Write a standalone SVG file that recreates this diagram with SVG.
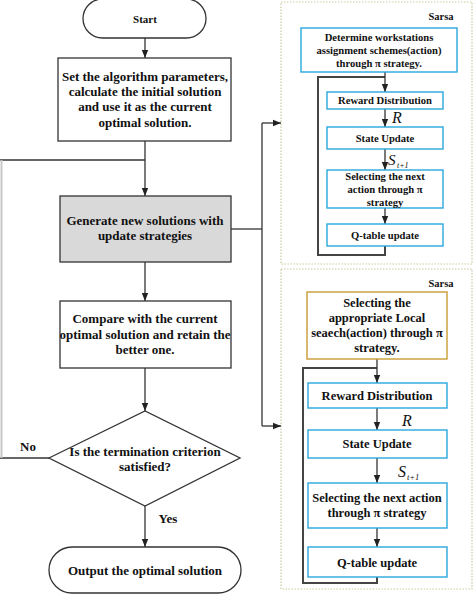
<svg xmlns="http://www.w3.org/2000/svg" width="474" height="594" viewBox="0 0 474 594">
<style>
  text { font-family: "Liberation Serif", "Times New Roman", serif; font-weight: bold; fill: #111; text-anchor: middle; }
  .l { font-size: 13px; }
  .s { font-size: 10.6px; }
  .m { font-size: 12.5px; }
  .box { fill: #fff; stroke: #333; stroke-width: 1.3; }
  .blue { fill: #fff; stroke: #2aa8dc; stroke-width: 1.4; }
  .gold { fill: #fff; stroke: #c99a34; stroke-width: 1.4; }
  .cont { fill: none; stroke: #c9c9a0; stroke-width: 1.2; stroke-dasharray: 1.5 1.5; }
  .c { fill: none; stroke: #333; stroke-width: 1.3; }
  .loop { fill: none; stroke: #444; stroke-width: 2; }
  .it { font-style: italic; font-weight: normal; text-anchor: start; }
</style>
<defs>
  <marker id="ah" markerUnits="userSpaceOnUse" markerWidth="8" markerHeight="8" viewBox="0 0 8 8" refX="8" refY="4" orient="auto">
    <path d="M0,0.8 L8,4 L0,7.2 Z" fill="#222"/>
  </marker>
</defs>
<rect width="474" height="594" fill="#fff"/>

<g id="sarsa1-container">
  <rect class="cont" x="281" y="2" width="191" height="262"/>
  <text x="441" y="20" style="font-size:10.5px">Sarsa</text>
</g>
<g id="sarsa2-container">
  <rect class="cont" x="281" y="269" width="191" height="320"/>
  <text x="441" y="287" style="font-size:10.5px">Sarsa</text>
</g>

<g id="connectors">
  <path class="c" d="M145,38 V58" marker-end="url(#ah)"/>
  <path class="c" d="M145,141 V196" marker-end="url(#ah)"/>
  <path class="c" d="M0,160 H145"/>
  <path class="c" d="M231,229 H262"/>
  <path class="c" d="M262,123 V426"/>
  <path class="c" d="M262,123 H281" marker-end="url(#ah)"/>
  <path class="c" d="M262,426 H281" marker-end="url(#ah)"/>
  <path class="c" d="M145,262 V301" marker-end="url(#ah)"/>
  <path class="c" d="M145,368 V411" marker-end="url(#ah)"/>
  <path class="c" d="M145,506 V547" marker-end="url(#ah)"/>
  <path class="c" d="M49,458 H0"/>
  <path d="M1.5,160 V458" fill="none" stroke="#c8c8c8" stroke-width="2"/>

  <path class="loop" d="M385,246 V255 H318 V77 H385"/>
  <path class="c" d="M385,72 V92" marker-end="url(#ah)"/>
  <path class="c" d="M385,109 V127" marker-end="url(#ah)"/>
  <path class="c" d="M385,149 V170" marker-end="url(#ah)"/>
  <path class="c" d="M385,208 V224" marker-end="url(#ah)"/>

  <path class="loop" d="M377,577 V583 H303 V368 H377"/>
  <path class="c" d="M377,359 V383" marker-end="url(#ah)"/>
  <path class="c" d="M377,408 V430" marker-end="url(#ah)"/>
  <path class="c" d="M377,458 V483" marker-end="url(#ah)"/>
  <path class="c" d="M377,528 V547" marker-end="url(#ah)"/>

  <text x="28" y="451" class="l">No</text>
  <text x="168" y="523" class="l">Yes</text>
  <text x="392" y="123" class="it" style="font-size:16px">R</text>
  <text x="388" y="165" class="it" style="font-size:15px">S</text>
  <text x="397" y="168" class="it" style="font-size:8px">t+1</text>
  <text x="402" y="426" class="it" style="font-size:16px">R</text>
  <text x="398" y="477" class="it" style="font-size:16px">S</text>
  <text x="407" y="480" class="it" style="font-size:8.5px">t+1</text>
</g>

<g id="start">
  <rect class="box" x="83" y="-1" width="123" height="39" rx="19.5"/>
  <text x="145" y="23" class="s" style="font-size:11px">Start</text>
</g>
<g id="init">
  <rect class="box" x="58" y="58" width="173" height="83"/>
  <text class="l" x="145" y="81">Set the algorithm parameters,</text>
  <text class="l" x="145" y="96">calculate the initial solution</text>
  <text class="l" x="145" y="111">and use it as the current</text>
  <text class="l" x="145" y="127">optimal solution.</text>
</g>
<g id="generate">
  <rect class="box" x="60" y="196" width="171" height="66" style="fill:#d9d9d9"/>
  <text class="l" x="145" y="225">Generate new solutions with</text>
  <text class="l" x="145" y="240">update strategies</text>
</g>
<g id="compare">
  <rect class="box" x="60" y="301" width="171" height="67"/>
  <text class="l" x="145" y="323">Compare with the current</text>
  <text class="l" x="145" y="339">optimal solution and retain the</text>
  <text class="l" x="145" y="354">better one.</text>
</g>
<g id="decision">
  <polygon class="box" points="49,458 145,411 240,458 145,506"/>
  <text class="l" x="145" y="456">Is the termination criterion</text>
  <text class="l" x="145" y="471">satisfied?</text>
</g>
<g id="output">
  <rect class="box" x="49" y="547" width="192" height="46" rx="23"/>
  <text class="l" x="145" y="575">Output the optimal solution</text>
</g>

<g id="s1-determine">
  <rect class="blue" x="301" y="28" width="156" height="44"/>
  <text class="s" x="379" y="41">Determine workstations</text>
  <text class="s" x="379" y="54">assignment schemes(action)</text>
  <text class="s" x="379" y="67">through π strategy.</text>
</g>
<g id="s1-reward">
  <rect class="blue" x="327" y="92" width="116" height="17"/>
  <text class="s" x="385" y="104">Reward Distribution</text>
</g>
<g id="s1-state">
  <rect class="blue" x="327" y="127" width="116" height="22"/>
  <text class="s" x="385" y="142">State Update</text>
</g>
<g id="s1-select">
  <rect class="blue" x="327" y="170" width="116" height="38"/>
  <text class="s" x="385" y="180">Selecting the next</text>
  <text class="s" x="385" y="193">action through π</text>
  <text class="s" x="385" y="206">strategy</text>
</g>
<g id="s1-qtable">
  <rect class="blue" x="327" y="224" width="116" height="22"/>
  <text class="s" x="385" y="239">Q-table update</text>
</g>

<g id="s2-select-local">
  <rect class="gold" x="307" y="292" width="140" height="67"/>
  <text class="m" x="377" y="307">Selecting the</text>
  <text class="m" x="377" y="322">appropriate Local</text>
  <text class="m" x="377" y="337">seaech(action) through π</text>
  <text class="m" x="377" y="352">strategy.</text>
</g>
<g id="s2-reward">
  <rect class="blue" x="308" y="383" width="139" height="25"/>
  <text class="m" x="377" y="400">Reward Distribution</text>
</g>
<g id="s2-state">
  <rect class="blue" x="308" y="430" width="139" height="28"/>
  <text class="m" x="377" y="448">State Update</text>
</g>
<g id="s2-select">
  <rect class="blue" x="308" y="483" width="139" height="45"/>
  <text class="m" x="377" y="502">Selecting the next action</text>
  <text class="m" x="377" y="517">through π strategy</text>
</g>
<g id="s2-qtable">
  <rect class="blue" x="308" y="547" width="139" height="30"/>
  <text class="m" x="377" y="567">Q-table update</text>
</g>
</svg>
